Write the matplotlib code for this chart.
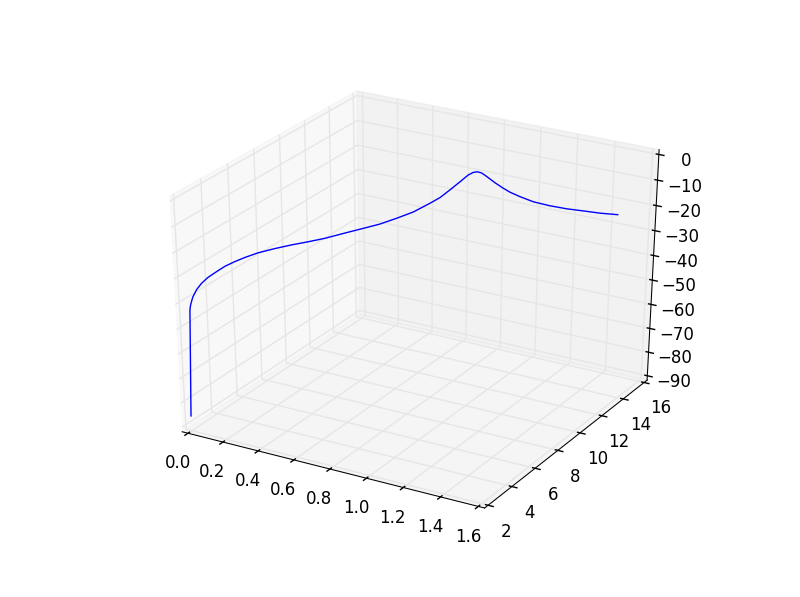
import numpy as np
import matplotlib
matplotlib.use('Agg')
import matplotlib.pyplot as plt

plt.style.use('classic')

# curve values
freq = [0.0, 0.015, 0.018, 0.027, 0.041, 0.059, 0.081, 0.112, 0.14, 0.175, 0.209, 0.254, 0.311, 0.368,
        0.425, 0.482, 0.556, 0.613, 0.671, 0.728, 0.785, 0.843, 0.877, 0.911, 0.946, 0.974, 0.991, 1.005,
        1.02, 1.038, 1.067, 1.096, 1.119, 1.155, 1.202, 1.261, 1.32, 1.379, 1.439, 1.502]
damp = [2.0, 2.13, 2.16, 2.23, 2.36, 2.51, 2.71, 2.97, 3.22, 3.51, 3.81, 4.2, 4.7, 5.19,
        5.68, 6.18, 6.82, 7.32, 7.81, 8.31, 8.81, 9.31, 9.6, 9.9, 10.2, 10.44, 10.59, 10.71,
        10.84, 11.0, 11.25, 11.5, 11.71, 12.01, 12.42, 12.93, 13.44, 13.96, 14.47, 15.02]
gain = [-85.7, -42.8, -40.8, -37.8, -35.0, -32.7, -30.7, -28.7, -27.0, -25.5, -24.3, -23.0, -22.0, -21.2,
        -20.6, -19.9, -18.5, -17.5, -16.4, -14.8, -13.0, -10.2, -8.4, -5.8, -3.0, -0.7, 0.1, 0.2,
        -0.4, -2.0, -4.7, -7.1, -8.9, -11.0, -13.5, -15.7, -17.5, -19.0, -20.5, -21.8]

x_ticks = [0, 0.2, 0.4, 0.6, 0.8, 1.0, 1.2, 1.4, 1.6]
y_ticks = [2, 4, 6, 8, 10, 12, 14, 16]
z_ticks = [-90, -80, -70, -60, -50, -40, -30, -20, -10, 0]

fig = plt.figure(figsize=(8, 5.97), dpi=100, facecolor='white')
ax = fig.add_subplot(111, projection='3d')
# old mplot3d look: cube stretched over the axes box, panes a bit past the limits
ax._box_aspect = np.full(3, 1 + 1 / 24)
ax.apply_aspect = lambda position=None: None

ax.plot(freq, damp, gain, color='b', linewidth=1)

ax.set_xlim(0, 1.6, view_margin=1 / 48)
ax.set_ylim(2, 16, view_margin=1 / 48)
ax.set_zlim(-90, 0, view_margin=1 / 48)
ax.set_xticks(x_ticks)
ax.set_yticks(y_ticks)
ax.set_zticks(z_ticks)
ax.view_init(elev=30, azim=-60)

fig.savefig('out.png', dpi=100, facecolor='white')
